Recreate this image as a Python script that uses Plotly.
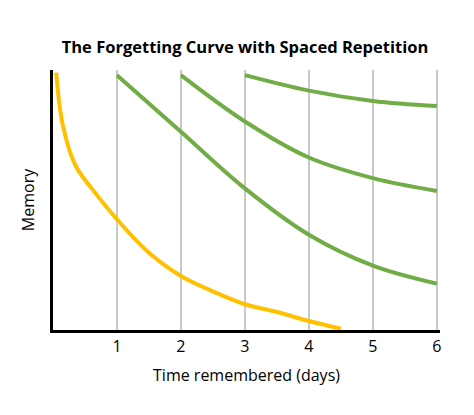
import plotly.graph_objects as go

# memory retained (0-100) vs days
first_x = [0.05, 0.15, 0.35, 0.7, 1, 1.5, 2, 2.5, 3, 3.5, 4, 4.5]
first_y = [100, 80, 64, 52, 43, 30, 21, 15, 10, 7, 3.5, 0.5]

review1_x = [1, 2, 3, 4, 5, 6]
review1_y = [99, 77, 55, 37, 25, 18]

review2_x = [2, 3, 4, 5, 6]
review2_y = [99, 81, 67, 59, 54]

review3_x = [3, 4, 5, 6]
review3_y = [99, 93, 89, 87]

yellow = "#FFC000"
green = "#70AD47"

fig = go.Figure()
fig.add_trace(go.Scatter(x=first_x, y=first_y, mode="lines",
                         line=dict(color=yellow, width=4, shape="spline")))
for xs, ys in [(review1_x, review1_y), (review2_x, review2_y), (review3_x, review3_y)]:
    fig.add_trace(go.Scatter(x=xs, y=ys, mode="lines",
                             line=dict(color=green, width=4, shape="spline")))

fig.update_layout(
    width=474, height=415,
    showlegend=False,
    plot_bgcolor="white", paper_bgcolor="white",
    font=dict(family="Open Sans, Arial", color="black", size=15),
    title=dict(text="<b>The Forgetting Curve with Spaced Repetition</b>",
               x=0.5, xanchor="center", y=0.92, font=dict(size=16.5)),
    margin=dict(l=45, r=42, t=62, b=93),
)
fig.update_xaxes(range=[0, 6.05], tickvals=[1, 2, 3, 4, 5, 6],
                 tickfont=dict(size=16),
                 showgrid=True, gridcolor="#C8C8C8", gridwidth=2,
                 showline=True, linecolor="black", linewidth=3,
                 zeroline=False, ticks="", ticklen=0,
                 title=dict(text="Time remembered (days)", standoff=14, font=dict(size=16)))
fig.update_yaxes(range=[0, 101], showticklabels=False, showgrid=False,
                 showline=True, linecolor="black", linewidth=3,
                 zeroline=False, title=dict(text="Memory", standoff=12, font=dict(size=16)))

fig.write_html("out.html")
